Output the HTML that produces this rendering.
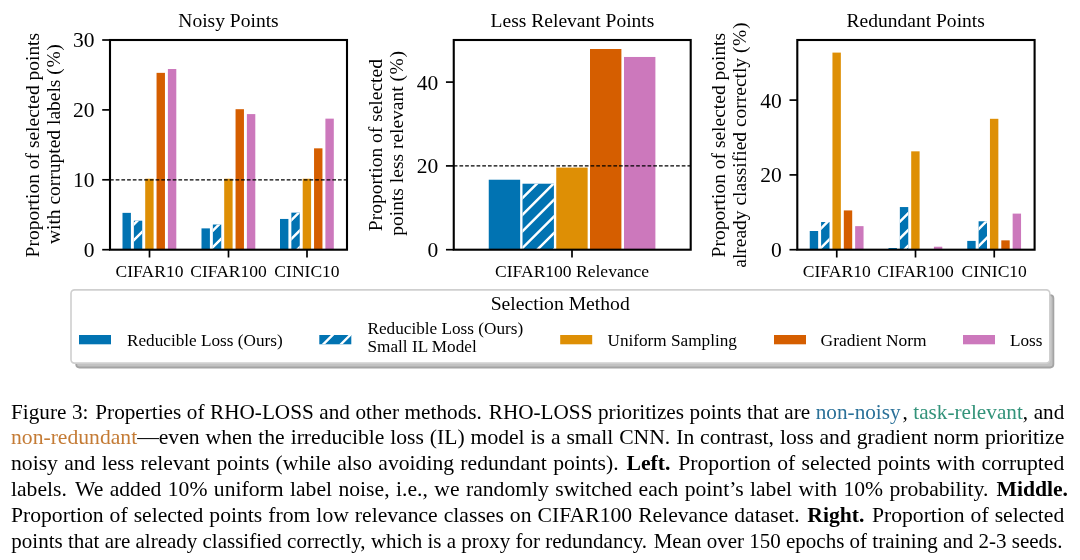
<!DOCTYPE html>
<html lang="en"><head><meta charset="utf-8"><title>Figure 3</title>
<style>
html,body{margin:0;padding:0;background:#fff;}
body{width:1080px;height:560px;position:relative;overflow:hidden;font-family:"Liberation Serif","DejaVu Serif",serif;color:#000;}
.ln{position:absolute;left:11.3px;height:30px;line-height:30px;font-size:21.0px;white-space:nowrap;transform-origin:0 0;}
.b{color:#2b7199;margin-right:1.8px} .g{color:#33937a} .o{color:#c47b35}
</style></head><body>
<svg width="1080" height="400" viewBox="0 0 1080 400" style="position:absolute;left:0;top:0">
<g font-family="'Liberation Serif', 'DejaVu Serif', serif" fill="#000">
<rect x="122.50" y="212.86" width="8.40" height="36.84" fill="#0173B2"/>
<rect x="133.85" y="220.69" width="8.40" height="29.01" fill="#0173B2"/>
<clipPath id="c1"><rect x="133.85" y="220.69" width="8.40" height="29.01"/></clipPath>
<path clip-path="url(#c1)" d="M104.50,253.70 L141.51,216.69 M120.20,253.70 L157.21,216.69" stroke="#fff" stroke-width="2.5" fill="none"/>
<rect x="145.20" y="178.75" width="8.40" height="70.95" fill="#DE8F05"/>
<rect x="156.55" y="72.85" width="8.40" height="176.85" fill="#D55E00"/>
<rect x="167.90" y="69.01" width="8.40" height="180.69" fill="#CC78BC"/>
<rect x="201.50" y="228.38" width="8.40" height="21.32" fill="#0173B2"/>
<rect x="212.85" y="224.54" width="8.40" height="25.16" fill="#0173B2"/>
<clipPath id="c2"><rect x="212.85" y="224.54" width="8.40" height="25.16"/></clipPath>
<path clip-path="url(#c2)" d="M189.80,253.70 L222.96,220.54 M206.30,253.70 L239.46,220.54 M222.80,253.70 L255.96,220.54" stroke="#fff" stroke-width="2.5" fill="none"/>
<rect x="224.20" y="178.75" width="8.40" height="70.95" fill="#DE8F05"/>
<rect x="235.55" y="109.20" width="8.40" height="140.50" fill="#D55E00"/>
<rect x="246.90" y="114.09" width="8.40" height="135.61" fill="#CC78BC"/>
<rect x="280.00" y="218.94" width="8.40" height="30.76" fill="#0173B2"/>
<rect x="291.35" y="212.65" width="8.40" height="37.05" fill="#0173B2"/>
<clipPath id="c3"><rect x="291.35" y="212.65" width="8.40" height="37.05"/></clipPath>
<path clip-path="url(#c3)" d="M257.90,253.70 L302.95,208.65 M276.60,253.70 L321.65,208.65 M293.30,253.70 L338.35,208.65" stroke="#fff" stroke-width="2.5" fill="none"/>
<rect x="302.70" y="178.75" width="8.40" height="70.95" fill="#DE8F05"/>
<rect x="314.05" y="148.34" width="8.40" height="101.35" fill="#D55E00"/>
<rect x="325.40" y="118.64" width="8.40" height="131.06" fill="#CC78BC"/>
<line x1="110.0" x2="347.0" y1="179.80" y2="179.80" stroke="#000" stroke-width="1.2" stroke-dasharray="3.7 2.0"/>
<rect x="110.0" y="40.0" width="237.0" height="209.7" fill="none" stroke="#000" stroke-width="2.1"/>
<line x1="102.2" x2="110.0" y1="249.7" y2="249.7" stroke="#000" stroke-width="1.7"/>
<text x="94.5" y="257.10" font-size="21.5" text-anchor="end">0</text>
<line x1="102.2" x2="110.0" y1="179.8" y2="179.8" stroke="#000" stroke-width="1.7"/>
<text x="94.5" y="187.20" font-size="21.5" text-anchor="end">10</text>
<line x1="102.2" x2="110.0" y1="109.9" y2="109.9" stroke="#000" stroke-width="1.7"/>
<text x="94.5" y="117.30" font-size="21.5" text-anchor="end">20</text>
<line x1="102.2" x2="110.0" y1="40.0" y2="40.0" stroke="#000" stroke-width="1.7"/>
<text x="94.5" y="47.40" font-size="21.5" text-anchor="end">30</text>
<line x1="149.5" x2="149.5" y1="249.7" y2="257.5" stroke="#000" stroke-width="1.7"/>
<text transform="translate(149.5,276.6) scale(1.02,1)" font-size="17.2" text-anchor="middle">CIFAR10</text>
<line x1="228.5" x2="228.5" y1="249.7" y2="257.5" stroke="#000" stroke-width="1.7"/>
<text transform="translate(228.5,276.6) scale(1.02,1)" font-size="17.2" text-anchor="middle">CIFAR100</text>
<line x1="307.0" x2="307.0" y1="249.7" y2="257.5" stroke="#000" stroke-width="1.7"/>
<text transform="translate(307.0,276.6) scale(1.02,1)" font-size="17.2" text-anchor="middle">CINIC10</text>
<text transform="translate(228.5,26.7) scale(1.05,1)" font-size="18.6" text-anchor="middle">Noisy Points</text>
<text transform="translate(39.4,145.15) rotate(-90) scale(1.04,1)" font-size="18.75" text-anchor="middle">Proportion of selected points</text>
<text transform="translate(59.5,144.15) rotate(-90) scale(1.04,1)" font-size="18.75" text-anchor="middle">with corrupted labels (<tspan dx="0.6">%</tspan><tspan dx="0.6">)</tspan></text>
<rect x="488.75" y="179.73" width="31.40" height="69.97" fill="#0173B2"/>
<rect x="522.50" y="183.71" width="31.40" height="65.99" fill="#0173B2"/>
<clipPath id="c4"><rect x="522.50" y="183.71" width="31.40" height="65.99"/></clipPath>
<path clip-path="url(#c4)" d="M433.70,253.70 L507.69,179.71 M450.30,253.70 L524.29,179.71 M466.90,253.70 L540.89,179.71 M483.50,253.70 L557.49,179.71 M500.10,253.70 L574.09,179.71 M516.70,253.70 L590.69,179.71 M533.30,253.70 L607.29,179.71 M549.90,253.70 L623.89,179.71" stroke="#fff" stroke-width="2.5" fill="none"/>
<rect x="556.25" y="167.58" width="31.40" height="82.12" fill="#DE8F05"/>
<rect x="590.00" y="49.00" width="31.40" height="200.70" fill="#D55E00"/>
<rect x="624.00" y="56.96" width="31.40" height="192.74" fill="#CC78BC"/>
<line x1="453.75" x2="690.7" y1="165.90" y2="165.90" stroke="#000" stroke-width="1.2" stroke-dasharray="3.7 2.0"/>
<rect x="453.75" y="40.0" width="236.95000000000005" height="209.7" fill="none" stroke="#000" stroke-width="2.1"/>
<line x1="445.95" x2="453.75" y1="249.7" y2="249.7" stroke="#000" stroke-width="1.7"/>
<text x="438.25" y="257.10" font-size="21.5" text-anchor="end">0</text>
<line x1="445.95" x2="453.75" y1="165.89999999999998" y2="165.89999999999998" stroke="#000" stroke-width="1.7"/>
<text x="438.25" y="173.30" font-size="21.5" text-anchor="end">20</text>
<line x1="445.95" x2="453.75" y1="82.09999999999997" y2="82.09999999999997" stroke="#000" stroke-width="1.7"/>
<text x="438.25" y="89.50" font-size="21.5" text-anchor="end">40</text>
<line x1="572.0" x2="572.0" y1="249.7" y2="257.5" stroke="#000" stroke-width="1.7"/>
<text transform="translate(572.0,276.6) scale(1.02,1)" font-size="17.2" text-anchor="middle">CIFAR100 Relevance</text>
<text transform="translate(572.5,26.7) scale(1.05,1)" font-size="18.6" text-anchor="middle">Less Relevant Points</text>
<text transform="translate(382.4,145.15) rotate(-90) scale(1.04,1)" font-size="18.75" text-anchor="middle">Proportion of selected</text>
<text transform="translate(403.0,143.35) rotate(-90) scale(1.04,1)" font-size="18.75" text-anchor="middle">points less relevant (<tspan dx="0.6">%</tspan><tspan dx="0.6">)</tspan></text>
<rect x="809.75" y="231.00" width="8.40" height="18.70" fill="#0173B2"/>
<rect x="821.10" y="222.02" width="8.40" height="27.68" fill="#0173B2"/>
<clipPath id="c5"><rect x="821.10" y="222.02" width="8.40" height="27.68"/></clipPath>
<path clip-path="url(#c5)" d="M795.70,253.70 L831.38,218.02 M815.10,253.70 L850.78,218.02" stroke="#fff" stroke-width="2.5" fill="none"/>
<rect x="832.45" y="52.60" width="8.40" height="197.10" fill="#DE8F05"/>
<rect x="843.80" y="210.43" width="8.40" height="39.27" fill="#D55E00"/>
<rect x="855.15" y="226.14" width="8.40" height="23.56" fill="#CC78BC"/>
<rect x="888.50" y="248.02" width="8.40" height="1.68" fill="#0173B2"/>
<rect x="899.85" y="207.06" width="8.40" height="42.64" fill="#0173B2"/>
<clipPath id="c6"><rect x="899.85" y="207.06" width="8.40" height="42.64"/></clipPath>
<path clip-path="url(#c6)" d="M867.90,253.70 L918.54,203.06 M884.60,253.70 L935.24,203.06 M900.30,253.70 L950.94,203.06" stroke="#fff" stroke-width="2.5" fill="none"/>
<rect x="911.20" y="151.34" width="8.40" height="98.36" fill="#DE8F05"/>
<rect x="933.90" y="246.71" width="8.40" height="2.99" fill="#CC78BC"/>
<rect x="967.25" y="240.91" width="8.40" height="8.79" fill="#0173B2"/>
<rect x="978.60" y="221.28" width="8.40" height="28.42" fill="#0173B2"/>
<clipPath id="c7"><rect x="978.60" y="221.28" width="8.40" height="28.42"/></clipPath>
<path clip-path="url(#c7)" d="M954.10,253.70 L990.52,217.28 M971.05,253.70 L1007.47,217.28" stroke="#fff" stroke-width="2.5" fill="none"/>
<rect x="989.95" y="118.80" width="8.40" height="130.90" fill="#DE8F05"/>
<rect x="1001.30" y="240.35" width="8.40" height="9.35" fill="#D55E00"/>
<rect x="1012.65" y="213.61" width="8.40" height="36.09" fill="#CC78BC"/>
<rect x="797.3" y="40.0" width="237.29999999999995" height="209.7" fill="none" stroke="#000" stroke-width="2.1"/>
<line x1="789.5" x2="797.3" y1="249.7" y2="249.7" stroke="#000" stroke-width="1.7"/>
<text x="781.8" y="257.10" font-size="21.5" text-anchor="end">0</text>
<line x1="789.5" x2="797.3" y1="174.89999999999998" y2="174.89999999999998" stroke="#000" stroke-width="1.7"/>
<text x="781.8" y="182.30" font-size="21.5" text-anchor="end">20</text>
<line x1="789.5" x2="797.3" y1="100.09999999999997" y2="100.09999999999997" stroke="#000" stroke-width="1.7"/>
<text x="781.8" y="107.50" font-size="21.5" text-anchor="end">40</text>
<line x1="836.75" x2="836.75" y1="249.7" y2="257.5" stroke="#000" stroke-width="1.7"/>
<text transform="translate(836.75,276.6) scale(1.02,1)" font-size="17.2" text-anchor="middle">CIFAR10</text>
<line x1="915.5" x2="915.5" y1="249.7" y2="257.5" stroke="#000" stroke-width="1.7"/>
<text transform="translate(915.5,276.6) scale(1.02,1)" font-size="17.2" text-anchor="middle">CIFAR100</text>
<line x1="994.25" x2="994.25" y1="249.7" y2="257.5" stroke="#000" stroke-width="1.7"/>
<text transform="translate(994.25,276.6) scale(1.02,1)" font-size="17.2" text-anchor="middle">CINIC10</text>
<text transform="translate(915.7,26.7) scale(1.05,1)" font-size="18.6" text-anchor="middle">Redundant Points</text>
<text transform="translate(724.9,145.15) rotate(-90) scale(1.04,1)" font-size="18.75" text-anchor="middle">Proportion of selected points</text>
<text transform="translate(746.0,145.15) rotate(-90) scale(1.04,1)" font-size="18.75" text-anchor="middle">already classified correctly (<tspan dx="0.6">%</tspan><tspan dx="0.6">)</tspan></text>
<rect x="76.2" y="295.1" width="977.2" height="72.4" rx="3.2" fill="#c2c2c2" stroke="#a4a4a4" stroke-width="1.8"/>
<rect x="71" y="289.9" width="978.8" height="73.2" rx="3.5" fill="#fff" stroke="#cfcfcf" stroke-width="1.6"/>
<text x="560.2" y="309.5" font-size="19.65" text-anchor="middle">Selection Method</text>
<rect x="79.00" y="335.00" width="32.00" height="9.30" fill="#0173B2"/>
<rect x="319.30" y="335.00" width="32.00" height="9.30" fill="#0173B2"/>
<clipPath id="c8"><rect x="319.30" y="335.00" width="32.00" height="9.30"/></clipPath>
<path clip-path="url(#c8)" d="M319.30,348.30 L336.60,331.00 M336.90,348.30 L354.20,331.00" stroke="#fff" stroke-width="2.4" fill="none"/>
<rect x="560.20" y="335.00" width="32.00" height="9.30" fill="#DE8F05"/>
<rect x="774.00" y="335.00" width="32.00" height="9.30" fill="#D55E00"/>
<rect x="963.00" y="335.00" width="32.00" height="9.30" fill="#CC78BC"/>
<text x="127" y="345.5" font-size="17.2">Reducible Loss (Ours)</text>
<text x="367.5" y="334.2" font-size="17.2">Reducible Loss (Ours)</text>
<text x="367.5" y="352.4" font-size="17.2">Small IL Model</text>
<text x="607.5" y="345.5" font-size="17.2">Uniform Sampling</text>
<text x="820.6" y="345.5" font-size="17.45">Gradient Norm</text>
<text x="1010" y="345.5" font-size="17.2">Loss</text>
</g></svg>
<div class="ln" style="top:396.5px;word-spacing:0.244px;transform:scaleX(1.0100)">Figure 3:<span style="word-spacing:1.544px"> </span>Properties of RHO-LOSS and other methods.<span style="word-spacing:1.617px"> </span>RHO-LOSS prioritizes points that are <span class="b">non-noisy</span>,<span style="word-spacing:0.244px"> </span><span class="g">task-relevant</span>,<span style="word-spacing:0.244px"> </span>and</div>
<div class="ln" style="top:422.4px;word-spacing:0.497px;transform:scaleX(1.0300)"><span class="o">non-redundant</span>—even when the irreducible loss (IL) model is a small CNN. In contrast,<span style="word-spacing:0.497px"> </span>loss and gradient norm prioritize</div>
<div class="ln" style="top:448.3px;word-spacing:0.873px;transform:scaleX(1.0300)">noisy and less relevant points (while also avoiding redundant points).<span style="word-spacing:2.435px"> </span><b>Left.</b><span style="word-spacing:2.435px"> </span>Proportion of selected points with corrupted</div>
<div class="ln" style="top:474.3px;word-spacing:1.006px;transform:scaleX(1.0300)">labels.<span style="word-spacing:2.607px"> </span>We added 10% uniform label noise,<span style="word-spacing:1.006px"> </span>i.e.,<span style="word-spacing:1.006px"> </span>we randomly switched each point’s label with 10% probability.<span style="word-spacing:2.607px"> </span><b>Middle.</b></div>
<div class="ln" style="top:500.2px;word-spacing:0.622px;transform:scaleX(1.0300)">Proportion of selected points from low relevance classes on CIFAR100 Relevance dataset.<span style="word-spacing:2.108px"> </span><b>Right.</b><span style="word-spacing:2.108px"> </span>Proportion of selected</div>
<div class="ln" style="top:526.2px;word-spacing:0.000px;transform:scaleX(1.0000)">points that are already classified correctly,<span style="word-spacing:0.000px"> </span>which is a proxy for redundancy.<span style="word-spacing:1.300px"> </span>Mean over 150 epochs of training and 2-3 seeds.</div>
</body></html>
